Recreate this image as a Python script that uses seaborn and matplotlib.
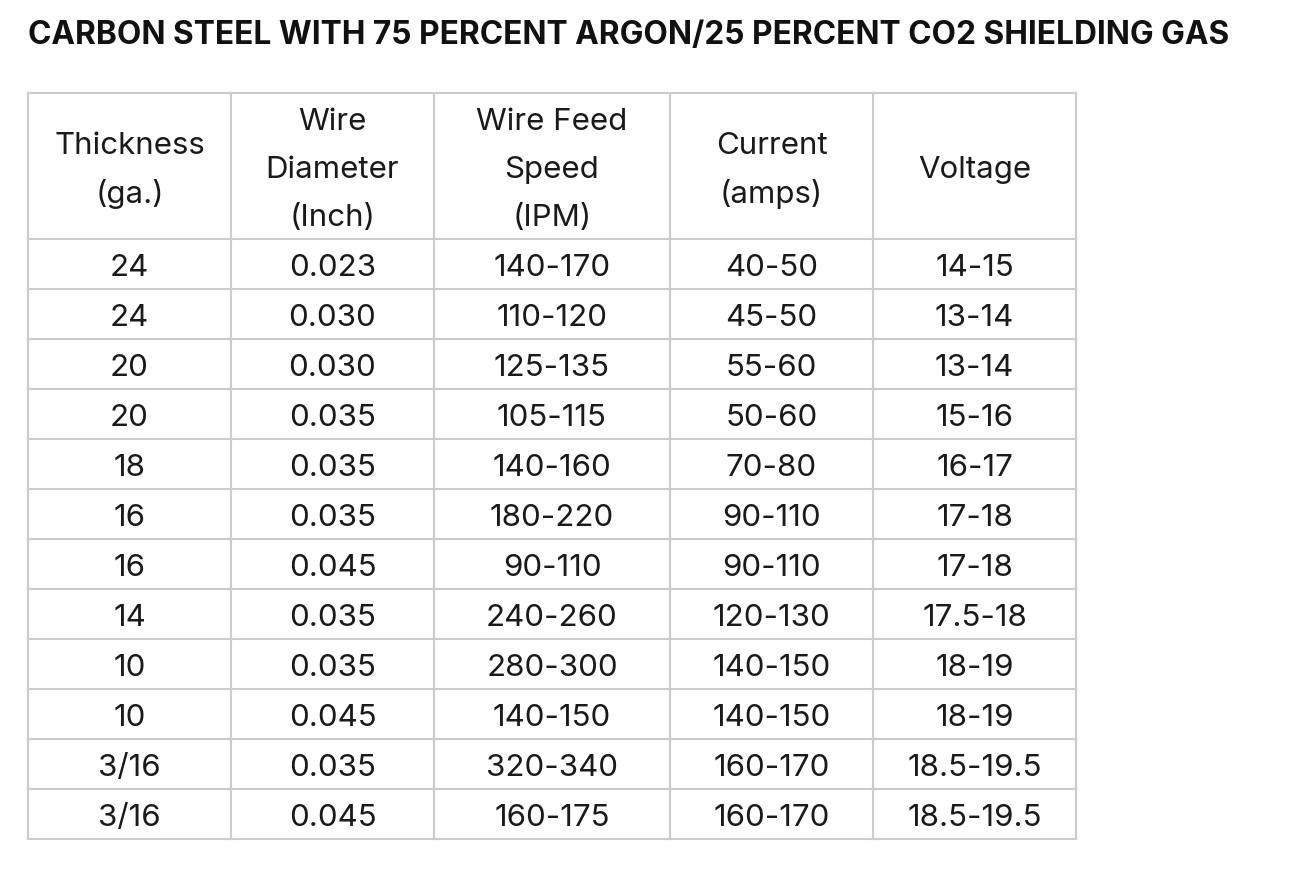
import matplotlib
matplotlib.use("Agg")
import matplotlib.pyplot as plt
import seaborn as sns

title = "CARBON STEEL WITH 75 PERCENT ARGON/25 PERCENT CO2 SHIELDING GAS"
headers = [["Thickness", "(ga.)"],
           ["Wire", "Diameter", "(Inch)"],
           ["Wire Feed", "Speed", "(IPM)"],
           ["Current", "(amps)"],
           ["Voltage"]]
thickness = ["24", "24", "20", "20", "18", "16", "16", "14", "10", "10", "3/16", "3/16"]
diameter = ["0.023", "0.030", "0.030", "0.035", "0.035", "0.035", "0.045",
            "0.035", "0.035", "0.045", "0.035", "0.045"]
feed_speed = ["140-170", "110-120", "125-135", "105-115", "140-160", "180-220",
              "90-110", "240-260", "280-300", "140-150", "320-340", "160-175"]
current = ["40-50", "45-50", "55-60", "50-60", "70-80", "90-110", "90-110",
           "120-130", "140-150", "140-150", "160-170", "160-170"]
voltage = ["14-15", "13-14", "13-14", "15-16", "16-17", "17-18", "17-18",
           "17.5-18", "18-19", "18-19", "18.5-19.5", "18.5-19.5"]

columns = [thickness, diameter, feed_speed, current, voltage]

sns.set_theme(style="white")
plt.rcParams['font.family'] = ['Inter', 'DejaVu Sans']

# layout in pixels
col_edges = [28, 231, 434, 670, 873, 1076]
head_top, head_bot, row_h = 93, 239, 50
line_gap = 48
grid_col = "#cccccc"
txt_col = "#1a1a1a"
dy = 4  # nudge text down to sit visually centred

fig = plt.figure(figsize=(13.1, 8.9), dpi=100)
ax = fig.add_axes([0, 0, 1, 1])
ax.set_xlim(0, 1310)
ax.set_ylim(890, 0)
ax.axis("off")

ax.text(28, 35, title, fontsize=22.8, fontweight="bold", color="#111111",
        ha="left", va="center")

n_rows = len(thickness)
table_bot = head_bot + row_h * n_rows

# grid
for x in col_edges:
    ax.plot([x, x], [head_top, table_bot], color=grid_col, lw=1.5, solid_capstyle="projecting")
for y in [head_top] + [head_bot + row_h * i for i in range(n_rows + 1)]:
    ax.plot([col_edges[0], col_edges[-1]], [y, y], color=grid_col, lw=1.5, solid_capstyle="projecting")

head_mid = (head_top + head_bot) / 2
for j, lines in enumerate(headers):
    cx = (col_edges[j] + col_edges[j + 1]) / 2
    k = len(lines)
    for i, s in enumerate(lines):
        y = head_mid + (i - (k - 1) / 2) * line_gap + dy
        ax.text(cx, y, s, fontsize=22.5, color=txt_col, ha="center", va="center")

for j, col in enumerate(columns):
    cx = (col_edges[j] + col_edges[j + 1]) / 2
    for i, s in enumerate(col):
        y = head_bot + row_h * i + row_h / 2 + dy
        ax.text(cx, y, s, fontsize=22.5, color=txt_col, ha="center", va="center")

fig.savefig("out.png", dpi=100, facecolor="white")
